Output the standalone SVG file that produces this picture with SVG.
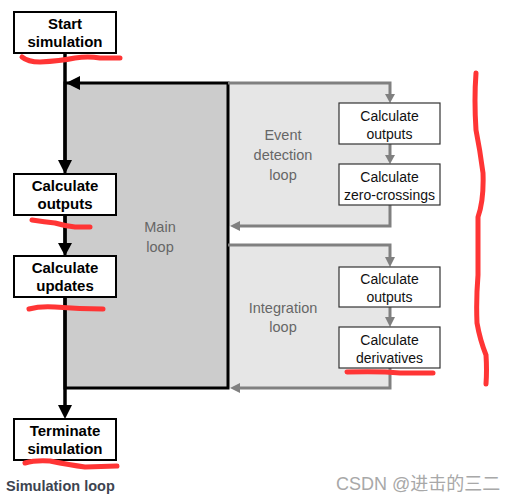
<svg xmlns="http://www.w3.org/2000/svg" width="521" height="504" viewBox="0 0 521 504">
<style>
.lbox{fill:#fff;stroke:#000;stroke-width:2}
.rbox{fill:#fff;stroke:#333;stroke-width:1.2}
.lt{font-family:"Liberation Sans",Arial,sans-serif;font-size:15px;font-weight:bold;fill:#000;text-anchor:middle}
.rt{font-family:"Liberation Sans",Arial,sans-serif;font-size:14px;fill:#111;text-anchor:middle}
.gt{font-family:"Liberation Sans",Arial,sans-serif;font-size:14.5px;fill:#666;text-anchor:middle}
.bl{stroke:#000;stroke-width:3.5;fill:none}
.gl{stroke:#808080;stroke-width:3;fill:none}
.red{stroke:#ff3535;stroke-width:5;fill:none;stroke-linecap:round;stroke-linejoin:round}
</style>
<rect width="521" height="504" fill="#fff"/>
<g id="event-region"><rect x="228" y="83" width="163" height="143" fill="#e6e6e6"/></g>
<g id="integration-region"><rect x="228" y="245" width="163" height="143" fill="#e6e6e6"/></g>
<g id="main-loop">
<rect x="65" y="83" width="163" height="305" fill="#cccccc" stroke="#000" stroke-width="3"/>
<text class="gt" x="160" y="232">Main</text>
<text class="gt" x="160" y="252">loop</text>
</g>
<g id="connectors">
<line class="bl" x1="65" y1="53" x2="65" y2="162"/>
<polygon points="58,160 72,160 65,174" fill="#000"/>
<line class="bl" x1="65" y1="215" x2="65" y2="244"/>
<polygon points="58,243 72,243 65,256" fill="#000"/>
<line class="bl" x1="65" y1="297" x2="65" y2="406"/>
<polygon points="58,405 72,405 65,419" fill="#000"/>
<polygon points="66,83 80,76 80,90" fill="#000"/>
<polyline class="gl" points="228,83 390,83 390,95"/>
<polygon points="385,94 395,94 390,103" fill="#808080"/>
<line class="gl" x1="390" y1="144" x2="390" y2="156"/>
<polygon points="385,155 395,155 390,164" fill="#808080"/>
<polyline class="gl" points="390,205 390,226 238,226"/>
<polygon points="230,226 240,221 240,231" fill="#808080"/>
<polyline class="gl" points="228,245 390,245 390,258"/>
<polygon points="385,257 395,257 390,267" fill="#808080"/>
<line class="gl" x1="390" y1="307" x2="390" y2="318"/>
<polygon points="385,317 395,317 390,327" fill="#808080"/>
<polyline class="gl" points="390,368 390,388 238,388"/>
<polygon points="230,388 240,383 240,393" fill="#808080"/>
</g>
<g id="start"><rect class="lbox" x="14" y="12" width="102" height="41"/><text class="lt" x="65" y="29">Start</text><text class="lt" x="65" y="47">simulation</text></g>
<g id="calc-outputs"><rect class="lbox" x="14" y="174" width="102" height="41"/><text class="lt" x="65" y="191">Calculate</text><text class="lt" x="65" y="209">outputs</text></g>
<g id="calc-updates"><rect class="lbox" x="14" y="256" width="102" height="41"/><text class="lt" x="65" y="273">Calculate</text><text class="lt" x="65" y="291">updates</text></g>
<g id="terminate"><rect class="lbox" x="14" y="419" width="102" height="41"/><text class="lt" x="65" y="436">Terminate</text><text class="lt" x="65" y="454">simulation</text></g>
<g id="event-label"><text class="gt" x="283" y="140">Event</text><text class="gt" x="283" y="160">detection</text><text class="gt" x="283" y="180">loop</text></g>
<g id="integration-label"><text class="gt" x="283" y="313">Integration</text><text class="gt" x="283" y="332">loop</text></g>
<g id="ev-outputs"><rect class="rbox" x="339" y="103" width="101" height="41"/><text class="rt" x="389.5" y="121">Calculate</text><text class="rt" x="389.5" y="139">outputs</text></g>
<g id="ev-zero"><rect class="rbox" x="339" y="164" width="101" height="41"/><text class="rt" x="389.5" y="182">Calculate</text><text class="rt" x="389.5" y="200">zero-crossings</text></g>
<g id="int-outputs"><rect class="rbox" x="339" y="267" width="101" height="40"/><text class="rt" x="389.5" y="284">Calculate</text><text class="rt" x="389.5" y="302">outputs</text></g>
<g id="int-deriv"><rect class="rbox" x="339" y="327" width="101" height="41"/><text class="rt" x="389.5" y="345">Calculate</text><text class="rt" x="389.5" y="363">derivatives</text></g>
<text x="6" y="491" font-family="'Liberation Sans',Arial,sans-serif" font-size="14.5" font-weight="bold" fill="#3d4450">Simulation loop</text>
<text x="336" y="490" font-family="'Liberation Sans','Noto Sans CJK SC',sans-serif" font-size="18" fill="#a8a8a8">CSDN @进击的三二</text>
<g id="annotations">
<path class="red" d="M22,57 Q28,62 40,62 Q60,61 75,58 Q88,56 100,58 L120,58"/>
<path class="red" d="M32,220 Q45,222 55,223 Q65,226 75,227 L90,227"/>
<path class="red" d="M29,309 Q40,306 55,307 Q80,309 103,309"/>
<path class="red" d="M25,463 Q35,460 50,461 Q70,465 85,467 L117,466"/>
<path class="red" d="M347,372 Q380,371 400,373 L433,373"/>
<path class="red" d="M476,73 Q474,100 476,130 Q480,150 483,173 Q484,200 478,217 Q478,250 478,275 Q476,300 477,323 Q480,340 486,355 Q487,370 486,384"/>
</g>
</svg>
